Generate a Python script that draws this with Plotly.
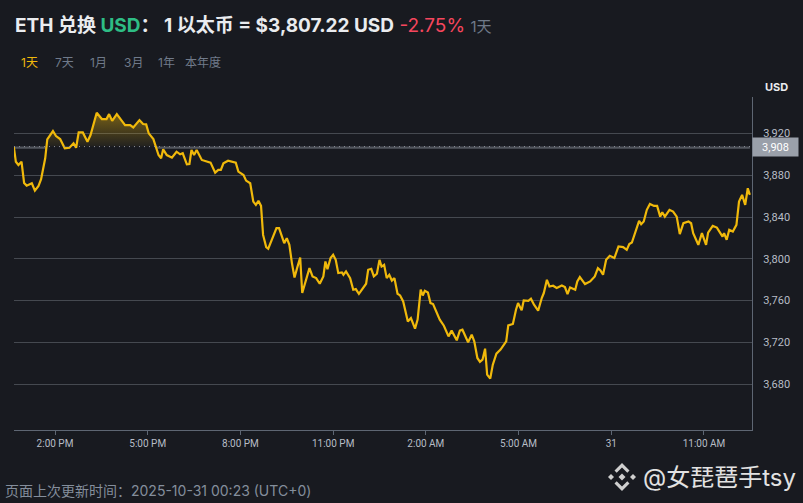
import plotly.graph_objects as go
import pandas as pd

# ---- data ----
minutes = [40, 44, 49, 55, 60, 65, 75, 81, 88, 93, 101, 105, 116, 122, 130, 139, 148, 156, 161, 166,
           174, 183, 189, 201, 211, 220, 225, 231, 240, 248, 256, 266, 272, 284, 291, 297, 302, 311, 321, 326,
           330, 337, 347, 356, 363, 368, 376, 381, 385, 390, 395, 405, 415, 422, 431, 437, 442, 447, 456, 466,
           471, 476, 486, 491, 499, 505, 510, 515, 520, 524, 530, 534, 541, 550, 555, 565, 570, 575, 580, 585,
           590, 596, 600, 607, 614, 620, 627, 634, 641, 645, 649, 655, 660, 665, 670, 677, 680, 685, 693, 699,
           704, 710, 717, 724, 728, 734, 739, 745, 750, 754, 759, 764, 769, 774, 779, 785, 790, 796, 805, 811,
           819, 824, 830, 834, 838, 844, 849, 854, 867, 875, 884, 890, 900, 906, 911, 922, 929, 934, 940, 945,
           950, 955, 959, 965, 970, 977, 985, 990, 996, 1000, 1009, 1015, 1019, 1026, 1030, 1039, 1044, 1050, 1058, 1065,
           1069, 1075, 1080, 1087, 1094, 1104, 1110, 1115, 1120, 1130, 1134, 1139, 1149, 1159, 1168, 1174, 1179, 1184, 1190, 1197,
           1206, 1214, 1223, 1230, 1235, 1240, 1246, 1254, 1258, 1263, 1269, 1275, 1283, 1289, 1295, 1299, 1304, 1313, 1320, 1327,
           1333, 1340, 1350, 1355, 1359, 1369, 1376, 1384, 1388, 1397, 1405, 1411, 1416, 1419, 1424, 1429, 1436, 1443, 1448, 1454,
           1460, 1465, 1469]
prices = [3907.4, 3893.0, 3889.9, 3893.0, 3872.7, 3870.1, 3872.4, 3865.3, 3869.8, 3876.2, 3896.3, 3914.5, 3922.4, 3917.6, 3914.7, 3905.8, 3906.4, 3910.6, 3906.4, 3921.1,
          3921.1, 3912.2, 3918.6, 3939.9, 3933.9, 3933.9, 3938.6, 3932.2, 3938.6, 3932.9, 3928.1, 3928.1, 3925.9, 3932.9, 3929.1, 3928.8, 3920.2, 3914.7, 3899.4, 3896.3,
          3904.9, 3899.4, 3896.9, 3902.6, 3900.1, 3901.1, 3890.5, 3890.8, 3904.2, 3899.4, 3904.2, 3894.7, 3893.0, 3892.1, 3882.5, 3885.1, 3885.1, 3891.5, 3894.0, 3892.5,
          3892.1, 3883.5, 3880.3, 3874.9, 3872.4, 3854.8, 3851.6, 3855.5, 3850.7, 3822.9, 3811.2, 3809.6, 3818.8, 3829.4, 3829.4, 3815.0, 3819.8, 3813.4, 3795.9, 3782.1,
          3791.1, 3801.2, 3767.2, 3778.3, 3791.1, 3783.1, 3781.5, 3776.1, 3783.1, 3797.4, 3790.1, 3800.7, 3803.8, 3799.0, 3786.3, 3786.9, 3784.7, 3787.9, 3781.5, 3770.4,
          3771.0, 3766.5, 3771.0, 3776.1, 3789.5, 3790.4, 3783.1, 3785.7, 3799.0, 3792.6, 3794.3, 3781.5, 3784.7, 3779.2, 3781.5, 3766.5, 3764.9, 3759.2, 3740.0, 3743.3,
          3733.1, 3741.7, 3770.4, 3764.9, 3769.4, 3767.8, 3757.6, 3756.7, 3741.7, 3735.9, 3725.7, 3731.2, 3721.9, 3731.2, 3732.1, 3720.0, 3727.3, 3720.9, 3705.0, 3701.2,
          3703.4, 3713.9, 3689.1, 3685.3, 3698.6, 3709.2, 3713.0, 3716.1, 3720.9, 3736.2, 3737.6, 3751.2, 3757.6, 3750.6, 3760.1, 3759.8, 3761.8, 3756.0, 3750.3, 3762.4,
          3767.2, 3779.9, 3773.5, 3774.2, 3772.0, 3774.5, 3772.9, 3766.2, 3772.6, 3770.4, 3778.3, 3782.5, 3775.8, 3778.3, 3783.1, 3791.1, 3788.8, 3784.7, 3799.0, 3802.9,
          3800.7, 3811.8, 3811.2, 3808.6, 3814.1, 3815.6, 3824.6, 3836.3, 3833.2, 3835.7, 3846.9, 3852.6, 3850.7, 3850.7, 3840.4, 3844.6, 3840.4, 3846.9, 3845.2, 3840.4,
          3823.6, 3834.1, 3835.7, 3834.1, 3824.6, 3813.4, 3824.6, 3813.4, 3825.1, 3831.5, 3829.9, 3824.6, 3821.3, 3824.6, 3818.2, 3827.7, 3826.1, 3832.5, 3854.8, 3861.2,
          3851.6, 3867.6, 3861.2]
baseline = 3907.5
baseline_label = "3,908"
x_tick_minutes = [120, 300, 480, 660, 840, 1020, 1200, 1380]
x_tick_labels = ["2:00 PM", "5:00 PM", "8:00 PM", "11:00 PM", "2:00 AM", "5:00 AM", "31", "11:00 AM"]
y_ticks = [3680, 3720, 3760, 3800, 3840, 3880, 3920]
range_buttons = ["1天", "7天", "1月", "3月", "1年", "本年度"]

# ---- layout constants ----
W, H = 803, 503
L, R, T, B = 14, 51, 97, 73
PW, PH = W - L - R, H - T - B
BG = "#181a20"
YELLOW = "#F0B90B"
FONT = "Inter, 'Noto Sans CJK SC', sans-serif"


def px(x):
    return (x - L) / PW


def py(y):
    return (H - B - y) / PH


base = pd.Timestamp("2025-10-30 12:00")


def to_t(m):
    return base + pd.Timedelta(minutes=float(m))


# crossing-aware upper / lower envelopes around the baseline
xs, ups, los = [], [], []
for i, (m, p) in enumerate(zip(minutes, prices)):
    if i > 0:
        a, b = prices[i - 1] - baseline, p - baseline
        if a * b < 0:
            f = a / (a - b)
            xc = minutes[i - 1] + f * (m - minutes[i - 1])
            xs.append(xc); ups.append(baseline); los.append(baseline)
    xs.append(m); ups.append(max(p, baseline)); los.append(min(p, baseline))

tx = [to_t(m) for m in xs]
t_line = [to_t(m) for m in minutes]

fig = go.Figure()
fig.add_trace(go.Scatter(x=tx, y=[baseline] * len(tx), mode="lines", line=dict(width=0),
                         hoverinfo="skip", showlegend=False))
fig.add_trace(go.Scatter(x=tx, y=ups, mode="lines", line=dict(width=0), fill="tonexty",
                         fillgradient=dict(type="vertical", start=baseline, stop=3941,
                                           colorscale=[[0, "rgba(240,185,11,0.04)"], [1, "rgba(240,185,11,0.45)"]]),
                         hoverinfo="skip", showlegend=False))
fig.add_trace(go.Scatter(x=tx, y=[baseline] * len(tx), mode="lines", line=dict(width=0),
                         hoverinfo="skip", showlegend=False))
fig.add_trace(go.Scatter(x=tx, y=los, mode="lines", line=dict(width=0), fill="tonexty",
                         fillgradient=dict(type="vertical", start=baseline - 2.6, stop=baseline,
                                           colorscale=[[0, "rgba(85,89,97,0)"], [0.25, "rgba(85,89,97,0.95)"],
                                                       [1, "rgba(85,89,97,0.95)"]]),
                         hoverinfo="skip", showlegend=False))
fig.add_trace(go.Scatter(x=t_line, y=prices, mode="lines", line=dict(color=YELLOW, width=2.2),
                         hoverinfo="skip", showlegend=False))

# dotted baseline
fig.add_shape(type="line", xref="paper", x0=0, x1=1, yref="y", y0=baseline, y1=baseline,
              line=dict(color="#8a8f98", width=1, dash="1px,4px"), layer="above")

annotations = []
# title
title_html = ("<b>ETH 兑换 <span style='color:#2EBD85'>USD</span>： 1 以太币 = $3,807.22 USD</b> "
              "<span style='color:#F6465D'>-2.75%</span> "
              "<span style='font-size:15px;color:#707A8A'>1天</span>")
annotations.append(dict(text=title_html, xref="paper", yref="paper", x=px(13), y=py(25),
                        xanchor="left", yanchor="middle", showarrow=False,
                        font=dict(family=FONT, size=19, color="#EAECEF")))
# range buttons
btn_x = [19, 53, 88, 122, 156, 183]
for i, (lab, bx) in enumerate(zip(range_buttons, btn_x)):
    annotations.append(dict(text=lab, xref="paper", yref="paper", x=px(bx), y=py(62),
                            xanchor="left", yanchor="middle", showarrow=False,
                            font=dict(family=FONT, size=12, color=YELLOW if i == 0 else "#707A8A")))
# USD axis title
annotations.append(dict(text="<b>USD</b>", xref="paper", yref="paper", x=px(776), y=py(87),
                        xanchor="center", yanchor="middle", showarrow=False,
                        font=dict(family=FONT, size=11, color="#EAECEF")))
# baseline price tag
annotations.append(dict(text=baseline_label, xref="paper", yref="y", x=1, y=baseline,
                        xanchor="left", yanchor="middle", showarrow=False, width=45, height=18,
                        bgcolor="#9aa0aa", borderpad=0, align="center",
                        font=dict(family="Roboto", size=11, color="#FFFFFF")))
# footer
annotations.append(dict(text="页面上次更新时间：2025-10-31 00:23 (UTC+0)", xref="paper", yref="paper",
                        x=px(3), y=py(490), xanchor="left", yanchor="middle", showarrow=False,
                        font=dict(family=FONT, size=14, color="#848E9C")))
# watermark text
annotations.append(dict(text="@女琵琶手tsy", xref="paper", yref="paper", x=px(798), y=py(477),
                        xanchor="right", yanchor="middle", showarrow=False,
                        font=dict(family=FONT, size=24, color="#E2E2E2")))


def poly(points):
    pts = [(px(x), py(y)) for x, y in points]
    return "M " + " L ".join(f"{a:.5f},{b:.5f}" for a, b in pts) + " Z"


cx, cy = 622, 477
logo_parts = [
    [(cx - 3.5, cy), (cx, cy - 3.5), (cx + 3.5, cy), (cx, cy + 3.5)],
    [(cx - 14, cy), (cx - 11, cy - 3), (cx - 8, cy), (cx - 11, cy + 3)],
    [(cx + 8, cy), (cx + 11, cy - 3), (cx + 14, cy), (cx + 11, cy + 3)],
    [(cx - 7.5, cy - 6.5), (cx, cy - 14), (cx + 7.5, cy - 6.5), (cx + 5.3, cy - 4.3), (cx, cy - 9.6), (cx - 5.3, cy - 4.3)],
    [(cx - 7.5, cy + 6.5), (cx, cy + 14), (cx + 7.5, cy + 6.5), (cx + 5.3, cy + 4.3), (cx, cy + 9.6), (cx - 5.3, cy + 4.3)],
]
for part in logo_parts:
    fig.add_shape(type="path", xref="paper", yref="paper", path=poly(part),
                  fillcolor="#CFCFCF", line=dict(width=0), layer="above")

fig.update_layout(
    width=W, height=H,
    margin=dict(l=L, r=R, t=T, b=B),
    paper_bgcolor=BG, plot_bgcolor=BG,
    showlegend=False, hovermode=False,
    annotations=annotations,
    font=dict(family=FONT),
)
fig.update_xaxes(
    range=[to_t(40.4), to_t(1473.2)],
    tickvals=[to_t(m) for m in x_tick_minutes], ticktext=x_tick_labels,
    showgrid=False, zeroline=False,
    showline=True, linecolor="#5E6673", linewidth=1,
    ticks="outside", ticklen=4, tickcolor="#5E6673",
    tickfont=dict(family="Roboto", size=10, color="#B7BDC6"),
)
fig.update_yaxes(
    side="right", range=[3636, 3955],
    tickvals=y_ticks, tickformat=",",
    showgrid=True, gridcolor="#454950", gridwidth=1, zeroline=False,
    showline=True, linecolor="#5E6673", linewidth=1,
    ticks="", ticklabelstandoff=8,
    tickfont=dict(family="Roboto", size=11, color="#B7BDC6"),
)

fig.write_html("out.html", config={"displayModeBar": False},
               post_script="document.body.style.margin='0';document.body.style.background='#181a20';")
